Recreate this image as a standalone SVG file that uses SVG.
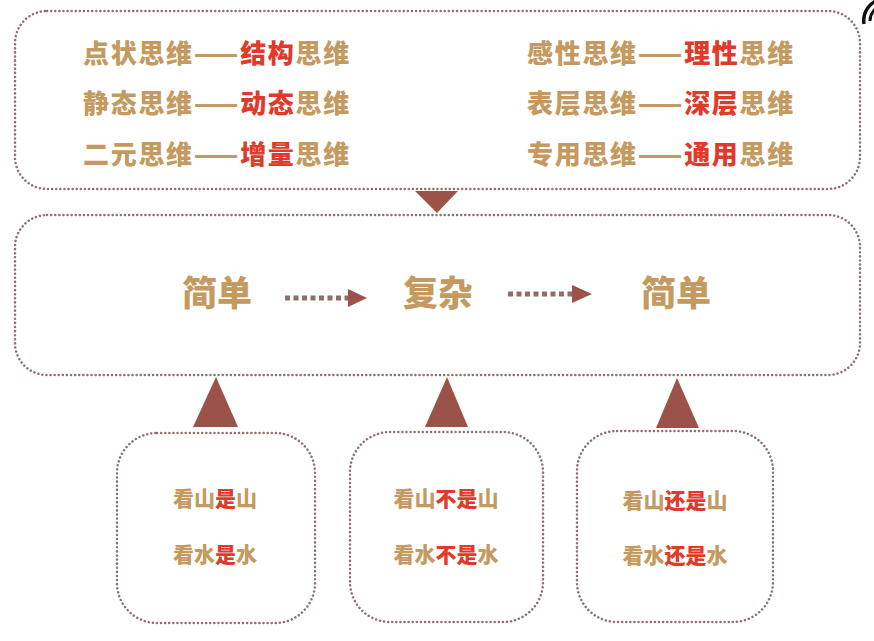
<svg xmlns="http://www.w3.org/2000/svg" width="874" height="641" viewBox="0 0 874 641">
<style>
.box{fill:#ffffff;stroke:#8e7272;stroke-width:2.5;stroke-dasharray:0.1 4;stroke-linecap:round}
.t{font-family:"Noto Sans CJK SC","Noto Sans CJK JP",sans-serif;font-weight:900;fill:#c49a60}
.r{fill:#e03b2a}
.big{font-size:26px;letter-spacing:1.7px}
.mid{font-size:35px}
.sm{font-size:21px}
.tri{fill:#9b5249}
.dots{stroke:#8f6e6a;stroke-width:5;stroke-dasharray:5 3.5;fill:none}
</style>
<rect width="874" height="641" fill="#ffffff"/>
<g id="top-box">
<rect class="box" x="15" y="11" width="845" height="178" rx="32"/>
<text class="t big" x="83" y="63">点状思维——<tspan class="r">结构</tspan>思维</text>
<text class="t big" x="83" y="113">静态思维——<tspan class="r">动态</tspan>思维</text>
<text class="t big" x="83" y="164">二元思维——<tspan class="r">增量</tspan>思维</text>
<text class="t big" x="527" y="63">感性思维——<tspan class="r">理性</tspan>思维</text>
<text class="t big" x="527" y="113">表层思维——<tspan class="r">深层</tspan>思维</text>
<text class="t big" x="527" y="164">专用思维——<tspan class="r">通用</tspan>思维</text>
</g>
<g id="mid-box">
<rect class="box" x="15" y="215" width="845" height="160" rx="32"/>
<text class="t mid" x="217" y="306" text-anchor="middle">简单</text>
<text class="t mid" x="438" y="306" text-anchor="middle">复杂</text>
<text class="t mid" x="676" y="306" text-anchor="middle">简单</text>
</g>
<g id="box1">
<rect class="box" x="117" y="433" width="198" height="190" rx="40"/>
<text class="t sm" x="215" y="506" text-anchor="middle">看山<tspan class="r">是</tspan>山</text>
<text class="t sm" x="215" y="562" text-anchor="middle">看水<tspan class="r">是</tspan>水</text>
</g>
<g id="box2">
<rect class="box" x="350" y="432" width="193" height="190" rx="40"/>
<text class="t sm" x="446" y="506" text-anchor="middle">看山<tspan class="r">不是</tspan>山</text>
<text class="t sm" x="446" y="562" text-anchor="middle">看水<tspan class="r">不是</tspan>水</text>
</g>
<g id="box3">
<rect class="box" x="577" y="431" width="196" height="191" rx="40"/>
<text class="t sm" x="675" y="508" text-anchor="middle">看山<tspan class="r">还是</tspan>山</text>
<text class="t sm" x="675" y="563" text-anchor="middle">看水<tspan class="r">还是</tspan>水</text>
</g>
<g id="connectors">
<polygon class="tri" points="415,191 458,191 437,213"/>
<polygon class="tri" points="216,377 193,427 238,427"/>
<polygon class="tri" points="447,377 425,427 468,427"/>
<polygon class="tri" points="677,378 656,428 699,428"/>
<line class="dots" x1="285" y1="298" x2="349" y2="298"/>
<polygon class="tri" points="348,289 367,298 348,307"/>
<line class="dots" x1="508" y1="294" x2="573" y2="294"/>
<polygon class="tri" points="572,285 592,294 572,303"/>
</g>
<path d="M864,24 A22,22 0 0 1 882,-1" fill="none" stroke="#111" stroke-width="3.5"/>
<path d="M870,21 A15,15 0 0 1 882,6" fill="none" stroke="#111" stroke-width="3"/>
</svg>
